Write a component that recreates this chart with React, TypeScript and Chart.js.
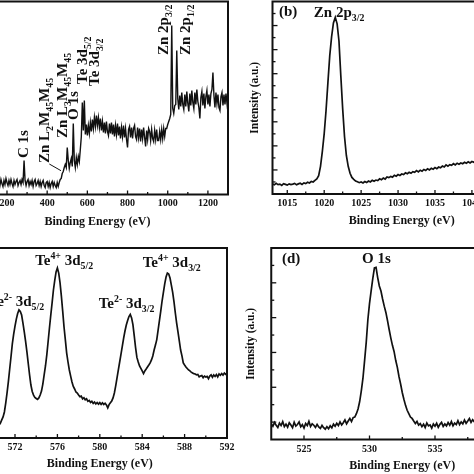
import { useEffect, useRef } from 'react';
import { Chart, registerables } from 'chart.js';

Chart.register(...registerables);

const FONT = '"Liberation Serif", "Times New Roman", serif';
const INK = '#111';

// (a) survey scan, 5 eV steps from 160 eV
const surveyStartEV = 160;
const surveyStepEV = 5;
const surveyCounts = [
  14, 9, 15, 11, 8, 14, 10, 16, 12, 9,
  14, 10, 15, 11, 8, 14, 10, 13, 15, 9,
  12, 14, 10, 15, 12, 34, 14, 9, 13, 15,
  9, 13, 10, 14, 8, 13, 15, 9, 11, 14,
  9, 13, 8, 12, 14, 9, 7, 12, 13, 8,
  12, 7, 11, 13, 8, 12, 9, 7, 12, 8,
  12, 15, 16, 21, 23, 27, 30, 27, 47, 34,
  26, 32, 36, 28, 71, 34, 27, 37, 30, 38,
  33, 45, 58, 92, 64, 94, 60, 70, 59, 69,
  61, 72, 63, 75, 66, 77, 68, 79, 69, 77,
  67, 76, 64, 73, 62, 72, 61, 73, 63, 59,
  71, 61, 72, 60, 70, 58, 69, 60, 71, 59,
  68, 56, 67, 58, 69, 57, 66, 55, 47, 65,
  68, 57, 67, 56, 66, 69, 58, 55, 67, 57,
  66, 53, 65, 56, 67, 57, 48, 64, 55, 66,
  63, 54, 65, 56, 53, 64, 55, 65, 54, 54,
  63, 55, 65, 56, 66, 58, 66, 66, 70, 73,
  76, 80, 169, 86, 81, 89, 90, 144, 96, 85,
  99, 88, 102, 90, 85, 100, 88, 103, 91, 83,
  101, 89, 104, 92, 86, 102, 90, 105, 93, 87,
  76, 97, 103, 89, 101, 86, 98, 104, 90, 100,
  88, 101, 105, 122, 99, 87, 102, 91, 100, 87,
  84, 98, 102, 89, 100, 90, 101, 91, 99,
];
const surveyTicks = [0, 200, 400, 600, 800, 1000, 1200];

// (b) Zn 2p region, 0.25 eV steps from 1013 eV
const zn2pStartEV = 1013;
const zn2pStepEV = 0.25;
const zn2pCounts = [
  4.2, 3.8, 4.4, 3.9, 4.1, 3.6, 4.3, 4.0, 3.7, 4.2,
  3.9, 4.1, 4.4, 3.8, 4.2, 4.5, 4.0, 4.6, 4.3, 4.9,
  4.6, 5.2, 5.0, 5.7, 6.3, 7.6, 11.5, 17.7, 25.1, 34.7,
  46.2, 57.4, 65.3, 71.1, 73.4, 70.7, 63.6, 49.1, 35.5, 23.9,
  16.0, 11.5, 8.6, 6.9, 6.1, 5.4, 5.1, 4.7, 5.0, 4.6,
  5.2, 4.8, 5.4, 5.0, 5.7, 5.3, 5.8, 5.6, 6.3, 5.9,
  6.6, 6.2, 7.1, 6.8, 7.3, 7.0, 7.8, 7.4, 8.1, 7.7,
  8.3, 8.1, 8.8, 8.4, 9.0, 8.6, 9.3, 9.0, 9.7, 9.2,
  9.9, 9.5, 10.2, 9.8, 10.5, 10.0, 10.7, 10.3, 11.0, 10.5,
  11.2, 10.9, 11.6, 11.2, 12.1, 11.6, 12.2, 11.9, 12.6, 12.1,
  12.8, 12.4, 12.9, 12.6, 13.2, 12.8, 13.4, 12.9, 13.5, 13.2,
  13.7, 13.3, 13.8,
];
const zn2pTicks = [1015, 1020, 1025, 1030, 1035, 1040, 1045];
const zn2pIntensityTicks = [0, 10, 20, 30, 40, 50, 60, 70, 80];

// (c) Te 3d region, 0.125 eV steps from 570.5 eV
const te3dStartEV = 570.5;
const te3dStepEV = 0.125;
const te3dCounts = [
  6.8, 7.9, 9.5, 11.1, 13.7, 18.4, 23.7, 29.7, 36.3, 42.9,
  49.7, 54.7, 58.9, 62.6, 65.5, 67.4, 66.6, 64.7, 60.5, 55.8,
  50.8, 45.3, 39.2, 33.2, 27.9, 24.5, 22.6, 21.3, 20.8, 20.3,
  21.1, 22.6, 24.7, 28.4, 33.2, 37.9, 43.7, 50.8, 57.9, 64.7,
  71.1, 77.9, 82.9, 87.4, 89.5, 86.8, 81.6, 74.7, 66.8, 58.4,
  51.6, 44.7, 40.0, 35.8, 32.6, 29.5, 27.1, 25.8, 24.2, 23.7,
  22.6, 21.7, 22.0, 20.6, 21.2, 20.1, 20.6, 19.3, 19.8, 18.7,
  19.3, 18.2, 18.9, 17.9, 18.7, 17.8, 18.6, 17.7, 18.5, 17.6,
  18.3, 17.4, 15.9, 17.6, 18.6, 19.5, 21.1, 23.7, 27.4, 31.6,
  35.8, 40.0, 44.2, 48.4, 52.6, 56.3, 59.5, 61.8, 63.9, 65.0,
  63.2, 59.7, 53.7, 47.6, 42.4, 40.0, 37.9, 36.6, 35.3, 33.9,
  35.3, 36.3, 37.4, 38.4, 39.5, 41.1, 43.2, 46.3, 48.9, 51.8,
  56.8, 61.8, 66.8, 72.1, 76.6, 81.1, 84.7, 86.8, 86.3, 84.2,
  80.5, 76.6, 71.6, 65.8, 60.5, 55.8, 51.1, 46.3, 43.2, 39.5,
  38.4, 37.4, 36.6, 35.8, 35.3, 34.7, 34.2, 33.9, 33.7, 33.2,
  33.4, 32.2, 32.6, 32.9, 31.7, 32.6, 32.1, 32.4, 31.2, 32.6,
  33.2, 32.0, 33.2, 32.4, 33.4, 32.2, 33.7, 33.0, 33.9, 33.1,
  34.2, 33.5, 34.2,
];
const te3dTicks = [568, 572, 576, 580, 584, 588, 592];

// (d) O 1s region, 0.125 eV steps from 522.5 eV
const o1sStartEV = 522.5;
const o1sStepEV = 0.125;
const o1sCounts = [
  8.9, 7.6, 9.8, 8.1, 6.9, 9.4, 8.0, 10.2,
  7.4, 8.8, 7.1, 9.6, 8.3, 6.8, 9.9, 7.7,
  8.6, 10.1, 7.3, 8.5, 6.6, 9.2, 8.0, 10.4,
  7.5, 9.0, 8.2, 6.9, 8.7, 7.2, 6.4, 8.1,
  6.8, 5.9, 7.4, 6.2, 7.9, 6.7, 8.8, 7.6,
  9.3, 8.0, 10.1, 8.4, 9.6, 11.2, 9.0, 10.6,
  12.1, 10.3, 12.6, 12.9, 14.8, 17.5, 21.8, 27.9,
  35.2, 45.3, 55.8, 68.8, 78.0, 85.4, 92.4, 98.6,
  98.9, 93.0, 88.2, 85.3, 80.7, 76.6, 73.0, 68.3,
  63.2, 58.4, 54.1, 50.6, 45.5, 41.4, 36.2, 31.9,
  27.0, 23.1, 19.6, 16.8, 14.9, 12.9, 12.1, 10.6,
  9.2, 10.4, 8.3, 9.1, 7.4, 8.8, 6.9, 9.5,
  7.8, 8.4, 6.5, 8.9, 7.6, 9.3, 7.0, 8.7,
  9.8, 7.5, 8.9, 7.8, 9.7, 8.2, 10.3, 7.9,
  9.4, 8.6, 10.8, 8.5, 10.1, 9.0, 11.2, 9.3,
  10.6, 12.0, 9.8, 11.4, 10.2, 11.7, 10.5, 11.9,
];
const o1sTicks = [525, 530, 535, 540];
const o1sIntensityTicks = [10, 30, 50, 70, 90, 110];

type Seg = { t: string; k?: 'sub' | 'sup' };
type Note = { x: number; y: number; segs: Seg[]; vertical?: boolean; size: number };
type Leader = { x1: number; y1: number; x2: number; y2: number };
type Box = { left: number; top: number; right: number; bottom: number };

type PanelSpec = {
  canvas: { left: number; top: number; width: number; height: number };
  padding: Box;
  xMin: number;
  xMax: number;
  xTicks: number[];
  xAxisHeight: number;
  tickPad: number;
  yMin: number;
  yMax: number;
  yTicks: number[] | null;
  yAxisWidth: number;
  points: { x: number; y: number }[];
  lineWidth: number;
  notes: Note[];
  leaders?: Leader[];
};

const series = (start: number, step: number, vals: number[]) =>
  vals.map((y, i) => ({ x: +(start + i * step).toFixed(4), y }));

const minorsOf = (vals: number[]) => {
  if (vals.length < 2) return [];
  const step = vals[1] - vals[0];
  const out = vals.map((v) => v - step / 2);
  out.push(vals[vals.length - 1] + step / 2);
  return out;
};

const drawRich = (ctx: CanvasRenderingContext2D, segs: Seg[], size: number, baseShift: number) => {
  const small = size * 0.66;
  let x = 0;
  for (const s of segs) {
    const fs = s.k ? small : size;
    ctx.font = `bold ${fs}px ${FONT}`;
    const dy = s.k === 'sub' ? size * 0.28 : s.k === 'sup' ? -size * 0.4 : 0;
    ctx.fillText(s.t, x, baseShift + dy);
    x += ctx.measureText(s.t).width;
  }
};

const panelDecor = {
  id: 'panelDecor',
  afterDatasetsDraw(chart: any, _args: any, opts: any) {
    const { ctx, chartArea: a } = chart;
    const xs = chart.scales.x;
    const ys = chart.scales.y;
    ctx.save();
    ctx.strokeStyle = INK;
    ctx.fillStyle = INK;
    const seg = (x1: number, y1: number, x2: number, y2: number) => {
      ctx.beginPath();
      ctx.moveTo(x1, y1);
      ctx.lineTo(x2, y2);
      ctx.stroke();
    };
    ctx.lineWidth = 1.3;
    const xv: number[] = xs.ticks.map((t: any) => t.value);
    const xTick = (v: number, len: number) => {
      const p = xs.getPixelForValue(v);
      if (p > a.left + 1.5 && p < a.right - 1.5) seg(p, a.bottom, p, a.bottom - len);
    };
    xv.forEach((v) => xTick(v, 4));
    minorsOf(xv).forEach((v) => xTick(v, 2.5));
    if (opts.yTicks) {
      const yv: number[] = ys.ticks.map((t: any) => t.value);
      const yTick = (v: number, len: number) => {
        const p = ys.getPixelForValue(v);
        if (p > a.top + 1.5 && p < a.bottom - 1.5) seg(a.left, p, a.left + len, p);
      };
      yv.forEach((v) => yTick(v, 5));
      minorsOf(yv).forEach((v) => yTick(v, 3));
    }
    ctx.lineWidth = 2;
    ctx.strokeRect(a.left, a.top, a.right - a.left, a.bottom - a.top);

    ctx.lineWidth = 1;
    for (const l of (opts.leaders || []) as Leader[]) {
      seg(xs.getPixelForValue(l.x1), ys.getPixelForValue(l.y1), xs.getPixelForValue(l.x2), ys.getPixelForValue(l.y2));
    }
    ctx.textAlign = 'left';
    ctx.textBaseline = 'alphabetic';
    for (const n of (opts.notes || []) as Note[]) {
      ctx.save();
      ctx.translate(xs.getPixelForValue(n.x), ys.getPixelForValue(n.y));
      if (n.vertical) {
        ctx.rotate(-Math.PI / 2);
        drawRich(ctx, n.segs, n.size, n.size * 0.33);
      } else {
        drawRich(ctx, n.segs, n.size, 0);
      }
      ctx.restore();
    }
    ctx.restore();
  },
};

const buildConfig = (p: PanelSpec): any => ({
  type: 'line',
  data: {
    datasets: [
      {
        data: p.points,
        borderColor: INK,
        borderWidth: p.lineWidth,
        pointRadius: 0,
        tension: 0,
        fill: false,
      },
    ],
  },
  plugins: [panelDecor],
  options: {
    animation: false,
    responsive: false,
    devicePixelRatio: 1,
    parsing: false,
    events: [],
    layout: { padding: p.padding, autoPadding: false },
    plugins: {
      legend: { display: false },
      tooltip: { enabled: false },
      panelDecor: { yTicks: !!p.yTicks, notes: p.notes, leaders: p.leaders },
    },
    scales: {
      x: {
        type: 'linear',
        position: 'bottom',
        min: p.xMin,
        max: p.xMax,
        grid: { display: false, drawTicks: false },
        border: { display: false },
        afterBuildTicks: (s: any) => {
          s.ticks = p.xTicks.map((v) => ({ value: v }));
        },
        afterFit: (s: any) => {
          s.height = p.xAxisHeight;
        },
        ticks: {
          autoSkip: false,
          maxRotation: 0,
          padding: p.tickPad,
          color: INK,
          font: { family: FONT, size: 10, weight: 'bold' },
          callback: (v: any) => String(v),
        },
        title: {
          display: true,
          text: 'Binding Energy (eV)',
          color: INK,
          padding: 0,
          font: { family: FONT, size: 12, weight: 'bold' },
        },
      },
      y: {
        type: 'linear',
        position: 'left',
        display: !!p.yTicks,
        min: p.yMin,
        max: p.yMax,
        grid: { display: false, drawTicks: false },
        border: { display: false },
        afterBuildTicks: (s: any) => {
          s.ticks = (p.yTicks || []).map((v) => ({ value: v }));
        },
        afterFit: (s: any) => {
          s.width = p.yAxisWidth;
        },
        ticks: { display: false },
        title: {
          display: true,
          text: 'Intensity (a.u.)',
          color: INK,
          padding: 0,
          font: { family: FONT, size: 11.5, weight: 'bold' },
        },
      },
    },
  },
});

const sub = (t: string): Seg => ({ t, k: 'sub' });
const sup = (t: string): Seg => ({ t, k: 'sup' });

const panels: PanelSpec[] = [
  {
    canvas: { left: -60, top: -10, width: 300, height: 260 },
    padding: { left: 26.8, top: 11.5, right: 12, bottom: 21.1 },
    xMin: 0,
    xMax: 1300,
    xTicks: surveyTicks,
    xAxisHeight: 34.4,
    tickPad: 3.1,
    yMin: 0,
    yMax: 193,
    yTicks: null,
    yAxisWidth: 0,
    points: series(surveyStartEV, surveyStepEV, surveyCounts),
    lineWidth: 1.4,
    notes: [
      { x: 279.7, y: 36.5, vertical: true, size: 15, segs: [{ t: 'C 1s' }] },
      { x: 384.3, y: 31.5, vertical: true, size: 15, segs: [{ t: 'Zn L' }, sub('2'), { t: 'M' }, sub('45'), { t: 'M' }, sub('45')] },
      { x: 473.9, y: 56.5, vertical: true, size: 15, segs: [{ t: 'Zn L' }, sub('3'), { t: 'M' }, sub('45'), { t: 'M' }, sub('45')] },
      { x: 528.6, y: 74.5, vertical: true, size: 15, segs: [{ t: 'O 1s' }] },
      { x: 573.4, y: 110.5, vertical: true, size: 15, segs: [{ t: 'Te 3d' }, sub('5/2')] },
      { x: 633.1, y: 108.5, vertical: true, size: 15, segs: [{ t: 'Te 3d' }, sub('3/2')] },
      { x: 976.6, y: 139.5, vertical: true, size: 15, segs: [{ t: 'Zn 2p' }, sub('3/2')] },
      { x: 1086.1, y: 139.5, vertical: true, size: 15, segs: [{ t: 'Zn 2p' }, sub('1/2')] },
    ],
    leaders: [{ x1: 410.7, y1: 30.5, x2: 468.9, y2: 23.8 }],
  },
  {
    canvas: { left: 240, top: -10, width: 310, height: 260 },
    padding: { left: 8.5, top: 11.5, right: 19, bottom: 21.4 },
    xMin: 1013,
    xMax: 1048,
    xTicks: zn2pTicks,
    xAxisHeight: 34.6,
    tickPad: 3.1,
    yMin: 0,
    yMax: 80,
    yTicks: zn2pIntensityTicks,
    yAxisWidth: 24,
    points: series(zn2pStartEV, zn2pStepEV, zn2pCounts),
    lineWidth: 1.7,
    notes: [
      { x: 1013.88, y: 74.0, size: 15, segs: [{ t: '(b)' }] },
      { x: 1018.6, y: 73.7, size: 15, segs: [{ t: 'Zn 2p' }, sub('3/2')] },
    ],
  },
  {
    canvas: { left: -60, top: 230, width: 300, height: 250 },
    padding: { left: 32.6, top: 18, right: 13, bottom: 8.8 },
    xMin: 568,
    xMax: 592,
    xTicks: te3dTicks,
    xAxisHeight: 33.2,
    tickPad: 3.6,
    yMin: 0,
    yMax: 100,
    yTicks: null,
    yAxisWidth: 0,
    points: series(te3dStartEV, te3dStepEV, te3dCounts),
    lineWidth: 1.7,
    notes: [
      { x: 569.5, y: 69.6, size: 15, segs: [{ t: 'Te' }, sup('2-'), { t: ' 3d' }, sub('5/2')] },
      { x: 573.9, y: 91.2, size: 15, segs: [{ t: 'Te' }, sup('4+'), { t: ' 3d' }, sub('5/2')] },
      { x: 579.9, y: 68.4, size: 15, segs: [{ t: 'Te' }, sup('2-'), { t: ' 3d' }, sub('3/2')] },
      { x: 584.05, y: 90.0, size: 15, segs: [{ t: 'Te' }, sup('4+'), { t: ' 3d' }, sub('3/2')] },
    ],
  },
  {
    canvas: { left: 240, top: 230, width: 310, height: 250 },
    padding: { left: 4.6, top: 18, right: 16.75, bottom: 6.8 },
    xMin: 522.5,
    xMax: 542.5,
    xTicks: o1sTicks,
    xAxisHeight: 33.7,
    tickPad: 4.1,
    yMin: 0,
    yMax: 110,
    yTicks: o1sIntensityTicks,
    yAxisWidth: 26.65,
    points: series(o1sStartEV, o1sStepEV, o1sCounts),
    lineWidth: 1.7,
    notes: [
      { x: 523.32, y: 101.4, size: 15, segs: [{ t: '(d)' }] },
      { x: 529.43, y: 101.4, size: 15, segs: [{ t: 'O 1s' }] },
    ],
  },
];

function Panel({ spec }: { spec: PanelSpec }) {
  const ref = useRef<HTMLCanvasElement>(null);
  useEffect(() => {
    const chart = new Chart(ref.current as HTMLCanvasElement, buildConfig(spec));
    return () => chart.destroy();
  }, [spec]);
  const c = spec.canvas;
  return (
    <canvas
      ref={ref}
      width={c.width}
      height={c.height}
      style={{ position: 'absolute', left: c.left, top: c.top, width: c.width, height: c.height }}
    />
  );
}

export default function App() {
  return (
    <div
      style={{
        position: 'fixed',
        left: 0,
        top: 0,
        width: 474,
        height: 474,
        overflow: 'hidden',
        background: '#fff',
      }}
    >
      {panels.map((p, i) => (
        <Panel key={i} spec={p} />
      ))}
    </div>
  );
}
